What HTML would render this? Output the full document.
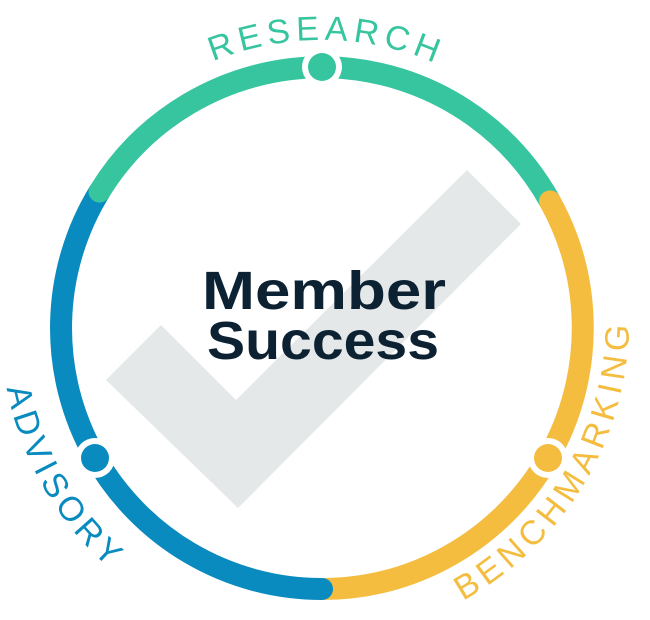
<!DOCTYPE html>
<html><head><meta charset="utf-8"><style>
html,body{margin:0;padding:0;background:#fff;}
svg{display:block;}
</style></head><body>
<svg width="650" height="620" viewBox="0 0 650 620" xmlns="http://www.w3.org/2000/svg">
<defs>
<path id="pRes" d="M 34 328 A 288 288 0 0 1 610 328"/>
<path id="pAdv" d="M 161.5 50 A 321 321 0 0 0 482.5 606"/>
<path id="pBen" d="M 152.5 599 A 320 320 0 0 0 491.5 57"/>
</defs>
<polygon points="106,380 161,325 236,400 467,170 521,224 238,508" fill="#e5e8e9"/>
<g fill="none" stroke-width="22">
<path d="M 322 589 A 261 261 0 0 0 550 201.4" stroke="#f4bd40"/>
<path d="M 550 201.4 A 261 261 0 0 0 99.5 191.6" stroke="#36c59f"/>
<path d="M 99.5 191.6 A 261 261 0 0 0 322 589" stroke="#0a8bbf"/>
</g>
<circle cx="322" cy="589" r="11" fill="#0a8bbf"/>
<circle cx="99.5" cy="191.6" r="11" fill="#36c59f"/>
<circle cx="550" cy="201.4" r="11" fill="#f4bd40"/>
<circle cx="322" cy="67" r="20" fill="#fff"/>
<circle cx="322" cy="67" r="14" fill="#36c59f"/>
<circle cx="95" cy="458" r="20" fill="#fff"/>
<circle cx="95" cy="458" r="14" fill="#0a8bbf"/>
<circle cx="548" cy="458" r="20" fill="#fff"/>
<circle cx="548" cy="458" r="14" fill="#f4bd40"/>
<g font-family="'Liberation Sans', sans-serif" font-size="34">
<text fill="#36c59f" letter-spacing="5.5"><textPath href="#pRes" startOffset="50.5%" text-anchor="middle">RESEARCH</textPath></text>
<text fill="#0a8bbf" letter-spacing="5"><textPath href="#pAdv" startOffset="50%" text-anchor="middle">ADVISORY</textPath></text>
<text fill="#f4bd40" letter-spacing="5.4"><textPath href="#pBen" startOffset="50.8%" text-anchor="middle">BENCHMARKING</textPath></text>
</g>
<g font-family="'Liberation Sans', sans-serif" font-weight="bold" font-size="54" fill="#0c2233">
<text x="202" y="309" textLength="244" lengthAdjust="spacingAndGlyphs">Member</text>
<text x="207" y="359" textLength="232" lengthAdjust="spacingAndGlyphs">Success</text>
</g>
</svg>
</body></html>
